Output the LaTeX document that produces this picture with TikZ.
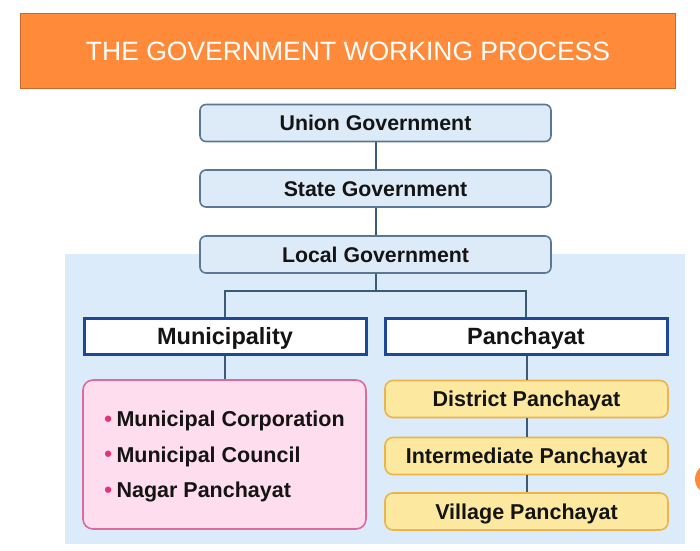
\documentclass[tikz,border=0pt]{standalone}
\usepackage{fontspec}
\setmainfont{Liberation Sans}
\usetikzlibrary{positioning}
\definecolor{orangefill}{HTML}{FF8B3A}
\definecolor{orangeline}{HTML}{C8692C}
\definecolor{bgblue}{HTML}{DCEBFA}
\definecolor{boxblue}{HTML}{DDEBF8}
\definecolor{boxline}{HTML}{5A7894}
\definecolor{darkblue}{HTML}{1E4796}
\definecolor{conn}{HTML}{3A5A7A}
\definecolor{pinkfill}{HTML}{FDDDEE}
\definecolor{pinkline}{HTML}{DC6A9A}
\definecolor{bulletc}{HTML}{E5307A}
\definecolor{yelfill}{HTML}{FDE8A0}
\definecolor{yelline}{HTML}{ECB44A}
\definecolor{txt}{HTML}{141414}
\tikzset{
  govbox/.style={draw=boxline, fill=boxblue, line width=1.6pt, rounded corners=6pt,
    minimum width=351pt, minimum height=37pt, inner sep=0pt, text height=15.5pt, text depth=0pt,
    font=\fontsize{21.3}{24}\selectfont\bfseries, text=txt},
  headbox/.style={draw=darkblue, fill=white, line width=3pt,
    minimum width=282pt, minimum height=36pt, inner sep=0pt, text height=17pt, text depth=0pt,
    font=\fontsize{23.5}{26}\selectfont\bfseries, text=txt},
  pinkbox/.style={draw=pinkline, fill=pinkfill, line width=1.6pt, rounded corners=10pt,
    minimum width=283pt, minimum height=149pt, inner sep=0pt, align=left,
    text height=86.4pt, text depth=0pt,
    font=\fontsize{21.5}{35.5}\selectfont\bfseries, text=txt},
  yelbox/.style={draw=yelline, fill=yelfill, line width=1.6pt, rounded corners=8pt,
    minimum width=283pt, minimum height=37pt, inner sep=0pt, text height=15.5pt, text depth=0pt,
    font=\fontsize{21.5}{24}\selectfont\bfseries, text=txt},
  link/.style={draw=conn, line width=2pt}
}
\newcommand{\pdot}{{\color{bulletc}\fontsize{22}{20}\selectfont\raisebox{0.5pt}{•}}\hspace{4.5pt}}
\begin{document}
\begin{tikzpicture}[x=1pt,y=-1pt]
\useasboundingbox (0,0) rectangle (700,550);
\fill[white] (0,0) rectangle (700,550);
% title
\node[draw=orangeline, fill=orangefill, line width=1.2pt, minimum width=655pt, minimum height=75pt,
  inner sep=0pt, text=white, font=\fontsize{26.5}{30}\selectfont] (title) at (348,51) {THE GOVERNMENT WORKING PROCESS};
% background panel
\fill[bgblue] (65,254) rectangle (685,544);
% partial orange circle at right edge
\fill[orangefill] (710,479) circle (15);
% nodes
\node[govbox] (union) at (375.5,123) {Union Government};
\node[govbox] (state) at (375.5,188.5) {State Government};
\node[govbox] (local) at (375.5,254.5) {Local Government};
\node[headbox] (muni) at (225,336) {Municipality};
\node[headbox] (panch) at (526,336) {Panchayat};
\node[pinkbox] (list) at (224.5,454.5) {\pdot Municipal Corporation\\\pdot Municipal Council\\\pdot Nagar Panchayat};
\node[yelbox] (district) at (526.5,399) {District Panchayat};
\node[yelbox] (inter) at (526.5,456) {Intermediate Panchayat};
\node[yelbox] (village) at (526.5,511.5) {Village Panchayat};
\coordinate (split) at (375.5,291);
% connectors
\draw[link] (union) -- (state);
\draw[link] (state) -- (local);
\draw[link] (local) -- (split);
\draw[link] (muni.north) |- (split) -| (panch.north);
\draw[link] (muni) -- (muni |- list.north);
\draw[link] (panch.south -| district) -- (district);
\draw[link] (district) -- (inter);
\draw[link] (inter) -- (village);
\end{tikzpicture}
\end{document}
